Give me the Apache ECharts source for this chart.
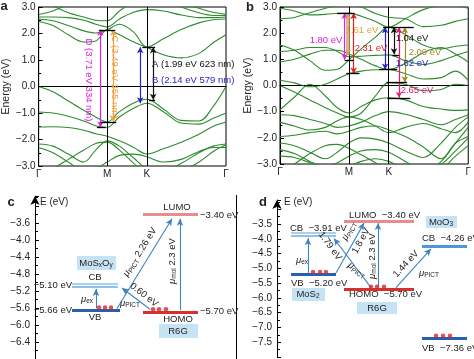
<!DOCTYPE html>
<html><head><meta charset="utf-8">
<script src="https://cdn.jsdelivr.net/npm/echarts@6/dist/echarts.min.js"></script>
<style>html,body{margin:0;padding:0;background:#fff}#c{width:474px;height:359px}</style>
</head><body><div id="c"></div><script>
// ---------- data ----------
const kPath = [0, 0.12, 0.25, 0.38, 0.48, 0.577, 0.68, 0.8, 0.911, 1.05, 1.2, 1.35, 1.47, 1.577];
const kTicks = [0, 0.577, 0.911, 1.577];
const kNames = ['Γ', 'M', 'K', 'Γ'];

// panel a bands (eV)
const aC1 = [2.45, 2.30, 1.95, 1.68, 1.72, 2.14, 1.95, 1.68, 1.47, 1.20, 1.08, 1.25, 1.65, 1.95];
const aC2 = [2.55, 2.48, 2.30, 2.10, 2.02, 2.14, 2.35, 2.05, 1.49, 1.80, 2.15, 2.40, 2.52, 2.55];
const aC3 = [2.62, 2.62, 2.60, 2.50, 2.35, 2.25, 2.55, 2.80, 2.90, 2.85, 2.70, 2.60, 2.60, 2.62];
const aC4 = [2.72, 2.85, 3.10, 3.30, 3.35, 3.20, 3.05, 3.10, 3.30, 3.35, 3.15, 2.95, 2.80, 2.72];
const aC5 = [3.30, 3.05, 2.78, 2.62, 2.50, 2.48, 2.85, 3.20, 3.40, 3.30, 3.00, 2.78, 2.68, 2.68];
const aV1 = [0.00, -0.20, -0.55, -0.90, -1.15, -1.34, -0.95, -0.62, -0.48, -0.85, -1.28, -1.30, -0.75, 0.00];
const aV2 = [-0.96, -1.00, -1.12, -1.30, -1.48, -1.54, -1.15, -0.82, -0.63, -0.95, -1.38, -1.42, -1.20, -1.00];
const aV3 = [-1.53, -1.52, -1.55, -1.65, -1.78, -1.88, -2.05, -2.30, -2.55, -2.35, -2.10, -1.80, -1.50, -1.34];
const aV4 = [-2.17, -2.25, -2.55, -2.85, -2.40, -2.05, -2.25, -2.70, -3.10, -3.20, -2.90, -2.50, -2.25, -2.17];
const aV5 = [-2.30, -2.50, -2.85, -3.20, -3.10, -2.85, -2.60, -2.55, -2.65, -2.85, -2.75, -2.45, -2.30, -2.30];
const aV6 = [-3.40, -3.10, -2.75, -2.40, -2.15, -2.10, -2.40, -2.90, -3.30, -3.40, -3.20, -2.85, -2.45, -2.20];

// panel b bands (eV)
const b1 = [2.95, 2.85, 2.70, 2.72, 2.76, 2.77, 2.65, 2.45, 2.23, 2.55, 2.90, 3.05, 3.05, 2.95];
const b2 = [2.55, 2.60, 2.78, 2.95, 3.05, 3.10, 3.00, 2.75, 2.60, 2.55, 2.25, 2.30, 2.45, 2.55];
const b3 = [1.55, 1.35, 0.95, 0.58, 0.62, 0.98, 1.40, 1.85, 2.23, 1.95, 1.55, 1.40, 1.50, 1.55];
const b4 = [1.30, 1.35, 1.45, 1.45, 1.30, 1.10, 1.12, 1.15, 1.17, 0.95, 0.80, 0.95, 1.15, 1.30];
const b5 = [0.20, 0.10, -0.05, 0.05, 0.25, 0.45, 0.55, 0.60, 0.61, 0.45, 0.25, 0.30, 0.55, 0.20];
const b6 = [-0.93, -0.45, 0.05, -0.40, -0.85, -1.05, -0.80, -0.55, -0.47, -0.55, -0.80, -0.90, -0.95, -0.93];
const b7 = [0.00, -0.25, -0.55, -0.85, -1.05, -1.20, -1.05, -0.40, 0.11, 0.05, -0.20, -0.15, 0.05, 0.00];
const b8 = [-1.12, -1.15, -1.30, -1.45, -1.60, -1.55, -1.40, -1.15, -1.00, -1.10, -1.30, -1.50, -1.30, -1.12];
const b9 = [-1.95, -1.90, -1.80, -1.75, -1.85, -1.75, -1.60, -1.55, -1.70, -1.95, -2.35, -2.80, -2.20, -1.95];
const b10 = [-2.20, -2.30, -2.55, -2.80, -2.55, -2.20, -2.00, -2.05, -2.20, -2.50, -2.75, -2.20, -1.60, -1.20];
const b11 = [-2.70, -2.75, -2.95, -3.20, -3.30, -3.10, -2.90, -2.80, -2.90, -3.20, -3.30, -2.90, -2.20, -1.60];
const b12 = [-2.45, -2.60, -2.90, -3.10, -2.95, -2.70, -2.50, -2.45, -2.55, -2.90, -3.20, -3.00, -2.50, -2.00];
const b13 = [0.90, 1.00, 1.20, 1.35, 1.35, 1.20, 1.00, 0.75, 0.61, 0.85, 1.25, 1.45, 1.20, 0.90];
const b14 = [-1.40, -1.55, -1.70, -1.60, -1.35, -1.20, -1.30, -1.55, -1.80, -1.60, -1.45, -1.65, -1.80, -1.40];
const b15 = [-3.30, -3.00, -2.60, -2.30, -2.25, -2.40, -2.65, -2.95, -3.20, -3.40, -3.40, -3.20, -2.70, -2.30];

// panel a transitions
const aTransNames = ['A (1.99 eV 623 nm)', 'B (2.14 eV 579 nm)', 'C (3.49 eV 355 nm)', 'D (3.71 eV 334 nm)'];
const aTransK = [0.964, 0.855, 0.629, 0.520];
const aTransTop = [1.48, 1.48, 2.14, 2.14];
const aTransBottom = [-0.50, -0.63, -1.34, -1.54];
const aMarkE = [2.14, -1.34, -1.54, 1.48, -0.50];
const aMarkK0 = [0.507, 0.523, 0.49, 0.874, 0.93];
const aMarkK1 = [0.645, 0.654, 0.564, 0.98, 0.98];

// panel b transitions
const bTransNames = ['1.80 eV', '1.61 eV', '2.31 eV', '1.62 eV', '1.04 eV', '2.65 eV', '2.09 eV'];
const bTransK = [0.542, 0.567, 0.617, 0.881, 0.955, 0.997, 1.046];
const bTransTop = [2.77, 2.77, 2.77, 2.23, 2.23, 2.23, 2.23];
const bTransBottom = [0.98, 1.16, 0.46, 0.61, 1.19, -0.47, 0.12];
const bMarkE = [2.77, 0.98, 0.45, 2.23, 1.17, 0.61, 0.11, -0.47];
const bMarkK0 = [0.479, 0.542, 0.556, 0.864, 0.941, 0.831, 0.892, 0.900];
const bMarkK1 = [0.625, 0.617, 0.666, 1.12, 0.997, 0.982, 1.065, 1.092];

// panel c levels (eV)
const cLevelNames = ['CB', 'VB', 'LUMO', 'HOMO'];
const cLevelE = [-5.10, -5.66, -3.40, -5.70];
const cTicks = [-3.6, -4.0, -4.4, -4.8, -5.2, -5.6, -6.0, -6.4];
// panel d levels (eV)
const dLevelNames = ['MoS2 CB', 'MoS2 VB', 'R6G LUMO', 'R6G HOMO', 'MoO3 CB', 'MoO3 VB'];
const dLevelE = [-3.91, -5.20, -3.40, -5.70, -4.26, -7.36];
const dTicks = [-3.5, -4.0, -4.5, -5.0, -5.5, -6.0, -6.5, -7.0, -7.5];

// ---------- drawing ----------
const GREEN = '#2e8b2e';
const FF = 'Arial, "Liberation Sans", Helvetica, sans-serif';
const minus = s => s.replace('-', '−');
const fmt1 = v => minus((Math.round(v * 10) / 10).toFixed(1));

function bandSeries(bands, gi) {
  return bands.map(b => ({
    type: 'line', xAxisIndex: gi, yAxisIndex: gi, silent: true, animation: false,
    data: kPath.map((k, i) => [k, b[i]]), smooth: 0.35, showSymbol: false, clip: true,
    lineStyle: { color: GREEN, width: 1.1 }, z: 2
  }));
}
function refLines(gi) {
  return {
    type: 'line', xAxisIndex: gi, yAxisIndex: gi, data: [], silent: true, animation: false, z: 3,
    markLine: {
      silent: true, symbol: ['none', 'none'], label: { show: false }, animation: false,
      data: [
        { yAxis: 0, lineStyle: { type: [1.5, 1.5], color: '#000', width: 1 } },
        { xAxis: kTicks[1], lineStyle: { type: 'solid', color: '#000', width: 1 } },
        { xAxis: kTicks[2], lineStyle: { type: 'solid', color: '#000', width: 1 } }
      ]
    }
  };
}
function arrows(gi, ks, tops, bottoms, colors, widths) {
  return {
    type: 'line', xAxisIndex: gi, yAxisIndex: gi, data: [], silent: true, animation: false, z: 5,
    markLine: {
      silent: true, symbol: ['arrow', 'arrow'], symbolSize: [5, 6], label: { show: false }, animation: false,
      data: ks.map((k, i) => [
        { coord: [k, tops[i]], lineStyle: { color: colors[i], width: widths ? widths[i] : 1.2, type: 'solid' } },
        { coord: [k, bottoms[i]] }
      ])
    }
  };
}
function markers(gi, es, k0, k1) {
  return {
    type: 'line', xAxisIndex: gi, yAxisIndex: gi, data: [], silent: true, animation: false, z: 6,
    markLine: {
      silent: true, symbol: ['none', 'none'], label: { show: false }, animation: false,
      data: es.map((e, i) => [
        { coord: [k0[i], e], lineStyle: { color: '#000', width: 1.3, type: 'solid' } },
        { coord: [k1[i], e] }
      ])
    }
  };
}
function bandAxisX(gi) {
  return {
    gridIndex: gi, type: 'value', min: 0, max: kTicks[3],
    axisLine: { lineStyle: { color: '#000' } }, axisTick: { show: false }, splitLine: { show: false },
    axisLabel: {
      customValues: kTicks, fontSize: 10, color: '#222', margin: 3, fontFamily: FF,
      showMinLabel: true, showMaxLabel: true,
      formatter: v => { let bi = 0; kTicks.forEach((t, i) => { if (Math.abs(t - v) < Math.abs(kTicks[bi] - v)) bi = i; }); return kNames[bi]; }
    }
  };
}
function bandAxisY(gi, gap) {
  return {
    gridIndex: gi, type: 'value', min: -3, max: 3, interval: 1,
    axisLine: { show: true, lineStyle: { color: '#000' } },
    axisTick: { show: true, inside: true, length: 4, lineStyle: { color: '#000' } },
    minorTick: { show: true, splitNumber: 2, length: 2.5, lineStyle: { color: '#000' } },
    splitLine: { show: false },
    axisLabel: { formatter: fmt1, fontSize: 10, color: '#222', margin: 3, fontFamily: FF },
    name: 'Energy (eV)', nameLocation: 'middle', nameGap: gap,
    nameTextStyle: { fontSize: 10.5, color: '#222', fontFamily: FF }
  };
}
function levelAxisY(gi, mn, mx, iv, shown) {
  return {
    gridIndex: gi, type: 'value', min: mn, max: mx, interval: iv,
    axisLine: { show: true, lineStyle: { color: '#000' }, symbol: ['none', 'arrow'], symbolSize: [7, 9] },
    axisTick: { show: true, inside: true, length: 4, lineStyle: { color: '#000' } },
    minorTick: { show: true, splitNumber: 2, length: 3, lineStyle: { color: '#000' } },
    splitLine: { show: false },
    axisLabel: {
      fontSize: 10, color: '#222', margin: 5, fontFamily: FF, showMaxLabel: false,
      formatter: v => shown.some(t => Math.abs(t - v) < 1e-6) ? fmt1(v) : ''
    }
  };
}
function hidX(gi, mx) { return { gridIndex: gi, type: 'value', min: 0, max: mx, show: false }; }

function levelLines(gi, items) {
  return {
    type: 'line', xAxisIndex: gi, yAxisIndex: gi, data: [], silent: true, animation: false, z: 4,
    markLine: {
      silent: true, symbol: ['none', 'none'], label: { show: false }, animation: false,
      data: items.map(it => [
        { coord: [it.x0, it.e], lineStyle: { color: it.c, width: it.w, type: 'solid', cap: 'butt' } },
        { coord: [it.x1, it.e] }
      ])
    }
  };
}
function levelArrows(gi, items) {
  return {
    type: 'line', xAxisIndex: gi, yAxisIndex: gi, data: [], silent: true, animation: false, z: 5,
    markLine: {
      silent: true, symbol: ['none', 'arrow'], symbolSize: [5, 7], label: { show: false }, animation: false,
      data: items.map(it => [
        { coord: [it.x0, it.e0], lineStyle: { color: '#3d84bf', width: 1.1, type: 'solid' } },
        { coord: [it.x1, it.e1] }
      ])
    }
  };
}
function dots(gi, xs, e) {
  return {
    type: 'scatter', xAxisIndex: gi, yAxisIndex: gi, silent: true, animation: false, z: 6,
    symbolSize: 4.5, itemStyle: { color: '#d7262b' }, data: xs.map(x => [x, e])
  };
}

const LB = '#8cc2e6', DB = '#2a5fae', SAL = '#ec8b8b', RED = '#d8302c';
const cE = name => cLevelE[cLevelNames.indexOf(name)];
const dE = name => dLevelE[dLevelNames.indexOf(name)];

const series = [
  ...bandSeries([aC1, aC2, aC3, aC4, aC5, aV1, aV2, aV3, aV4, aV5, aV6], 0),
  refLines(0),
  arrows(0, aTransK, aTransTop, aTransBottom, ['#111', '#2424c8', '#f0a040', '#e020e0']),
  markers(0, aMarkE, aMarkK0, aMarkK1),
  ...bandSeries([b1, b2, b3, b4, b5, b6, b7, b8, b9, b10, b11, b12, b13, b14, b15], 1),
  refLines(1),
  arrows(1, bTransK, bTransTop, bTransBottom,
    ['#e020e0', 'rgba(205,160,100,0.75)', '#e02020', '#2424c8', '#111', '#e8196e', '#a08a20'],
    [1.2, 4, 1.2, 1.2, 1.2, 1.2, 1.2]),
  markers(1, bMarkE, bMarkK0, bMarkK1),
  // panel c
  levelLines(2, [
    { x0: 37, x1: 83, e: cE('CB') + 0.07, c: LB, w: 1.6 },
    { x0: 37, x1: 83, e: cE('CB'), c: '#6aaee0', w: 1.6 },
    { x0: 37, x1: 85, e: cE('VB'), c: DB, w: 3 },
    { x0: 108, x1: 163, e: cE('LUMO'), c: SAL, w: 3 },
    { x0: 108, x1: 163, e: cE('HOMO'), c: RED, w: 3 }
  ]),
  levelArrows(2, [
    { x0: 61, e0: cE('VB') + 0.05, x1: 61, e1: cE('CB') - 0.05 },
    { x0: 82, e0: cE('VB') + 0.05, x1: 137, e1: cE('LUMO') - 0.1 },
    { x0: 115, e0: cE('HOMO') + 0.07, x1: 87, e1: cE('CB') - 0.03 },
    { x0: 145, e0: cE('HOMO') + 0.05, x1: 145, e1: cE('LUMO') - 0.1 }
  ]),
  dots(2, [64, 70, 76], cE('VB') + 0.07),
  dots(2, [118, 124, 131], cE('HOMO') + 0.07),
  // panel d
  levelLines(3, [
    { x0: 14, x1: 59, e: dE('MoS2 CB') + 0.1, c: LB, w: 1.6 },
    { x0: 14, x1: 59, e: dE('MoS2 CB'), c: '#6aaee0', w: 1.6 },
    { x0: 14, x1: 59, e: dE('MoS2 VB'), c: DB, w: 3 },
    { x0: 67, x1: 137, e: dE('R6G LUMO'), c: SAL, w: 3 },
    { x0: 67, x1: 137, e: dE('R6G HOMO'), c: RED, w: 3 },
    { x0: 145, x1: 190, e: dE('MoO3 CB'), c: '#4f97d6', w: 3 },
    { x0: 145, x1: 190, e: dE('MoO3 VB'), c: DB, w: 3 }
  ]),
  levelArrows(3, [
    { x0: 31, e0: dE('MoS2 VB') + 0.05, x1: 31, e1: dE('MoS2 CB') - 0.07 },
    { x0: 94, e0: dE('R6G HOMO') + 0.05, x1: 57, e1: dE('MoS2 CB') - 0.08 },
    { x0: 59, e0: dE('MoS2 VB') + 0.04, x1: 87, e1: dE('R6G LUMO') - 0.07 },
    { x0: 101, e0: dE('R6G HOMO') + 0.05, x1: 101, e1: dE('R6G LUMO') - 0.07 },
    { x0: 119, e0: dE('R6G HOMO') + 0.05, x1: 154, e1: dE('MoO3 CB') - 0.08 }
  ]),
  dots(3, [36, 43, 49], dE('MoS2 VB') + 0.08),
  dots(3, [94, 100, 107], dE('R6G HOMO') + 0.08),
  dots(3, [159, 166, 173], dE('MoO3 VB') + 0.08)
];

// ---------- text ----------
function T(x, y, text, o = {}) {
  return {
    type: 'text', x, y, rotation: (o.rot || 0) * Math.PI / 180, silent: true, z: 100,
    style: {
      text, fill: o.color || '#222', fontSize: o.size || 9.5, fontFamily: FF,
      fontWeight: o.bold ? 'bold' : 'normal', align: o.align || 'center', verticalAlign: 'middle',
      rich: o.rich
    }
  };
}
const RICH = {
  m: { fontSize: 9.5, fontStyle: 'italic', fontFamily: FF, fill: '#222' },
  s: { fontSize: 6.5, fontFamily: FF, fill: '#222', padding: [5, 0, 0, 0] },
  n: { fontSize: 9.5, fontFamily: FF, fill: '#222' }
};
const box = (x, y, w, h) => ({ type: 'rect', shape: { x, y, width: w, height: h }, style: { fill: '#c6e3f5' }, silent: true, z: 1 });

const graphic = [
  T(4, 6, 'a', { bold: true, size: 13 }),
  T(250, 7, 'b', { bold: true, size: 13 }),
  T(11, 202, 'c', { bold: true, size: 13 }),
  T(263, 202, 'd', { bold: true, size: 13 }),
  T(152, 64, aTransNames[0], { align: 'left', color: '#111' }),
  T(152, 80, aTransNames[1], { align: 'left', color: '#2424c8' }),
  T(115, 77, aTransNames[2], { rot: -90, color: '#f0a040' }),
  T(89, 80, aTransNames[3], { rot: -90, color: '#e020e0' }),
  T(326, 40, bTransNames[0], { color: '#e020e0' }),
  T(362, 30, bTransNames[1], { color: '#f0a040' }),
  T(371, 48, bTransNames[2], { color: '#e02020' }),
  T(412, 63, bTransNames[3], { color: '#2424c8' }),
  T(412, 38, bTransNames[4], { color: '#111' }),
  T(417, 90, bTransNames[5], { color: '#e8196e' }),
  T(425, 52, bTransNames[6], { color: '#a08a20' }),
  { type: 'line', shape: { x1: 236.5, y1: 195, x2: 236.5, y2: 359 }, style: { stroke: '#000', lineWidth: 1 }, silent: true },
  T(40, 202, 'E (eV)', { align: 'left', size: 10 }),
  T(72, 285, '−5.10 eV', { align: 'right' }),
  T(72, 310, '−5.66 eV', { align: 'right' }),
  T(95, 277, 'CB'), T(95, 317, 'VB'),
  box(77, 256, 39, 14),
  T(96, 263, '{n|MoS}{s|x}{n|O}{s|y}', { rich: RICH }),
  T(87, 299, '{m|μ}{s|ex}', { rich: RICH }),
  T(177, 207, 'LUMO'),
  T(200, 215, '−3.40 eV', { align: 'left' }),
  T(200, 311, '−5.70 eV', { align: 'left' }),
  T(178, 319, 'HOMO'),
  box(159, 324, 39, 14),
  T(178, 331, 'R6G'),
  T(140, 252, '{m|μ}{s|PICT}{n| 2.26 eV}', { rot: 58, rich: RICH }),
  T(144, 295, '0.60 eV', { rot: -38 }),
  T(130, 303, '{m|μ}{s|PICT}', { rich: RICH }),
  T(172, 261, '{m|μ}{s|mol}{n| 2.3 eV}', { rot: 90, rich: RICH }),
  T(284, 202, 'E (eV)', { align: 'left', size: 10 }),
  T(290, 228, 'CB  −3.91 eV', { align: 'left' }),
  T(291, 283, 'VB  −5.20 eV', { align: 'left' }),
  box(292, 288, 33, 13),
  T(308, 294, '{n|MoS}{s|2}', { rich: RICH }),
  T(302, 260, '{m|μ}{s|ex}', { rich: RICH }),
  T(349, 215, 'LUMO  −3.40 eV', { align: 'left' }),
  T(349, 294, 'HOMO  −5.70 eV', { align: 'left' }),
  box(357, 302, 40, 12),
  T(377, 308, 'R6G'),
  box(426, 216, 31, 12),
  T(441, 222, '{n|MoO}{s|3}', { rich: RICH }),
  T(422, 238, 'CB  −4.26 eV', { align: 'left' }),
  T(422, 348, 'VB  −7.36 eV', { align: 'left' }),
  T(330, 246, '1.79 eV', { rot: -54 }),
  T(349, 231, '{m|μ}{s|PICT}', { rot: 61, rich: RICH }),
  T(361, 241, '1.8 eV', { rot: 61 }),
  T(357, 270, '{m|μ}{s|PICT}', { rot: -35, rich: RICH }),
  T(372, 256, '{m|μ}{s|mol}{n| 2.3 eV}', { rot: 90, rich: RICH }),
  T(406, 264, '1.44 eV', { rot: 47 }),
  T(429, 273, '{m|μ}{s|PICT}', { rich: RICH })
];

const cMin = -6.8, cMax = -3.6 + 27 / 42.5;
const dMin = -8.0, dMax = -3.5 + 24 / 29.58;

const option = {
  animation: false,
  grid: [
    { left: 33, top: 7, width: 193, height: 159, show: true, borderColor: '#000', borderWidth: 1, backgroundColor: 'transparent' },
    { left: 280, top: 7, width: 191, height: 157, show: true, borderColor: '#000', borderWidth: 1, backgroundColor: 'transparent' },
    { left: 35, top: 196, width: 200, height: 163 },
    { left: 277, top: 200, width: 197, height: (dMax - dMin) * 29.58 }
  ],
  xAxis: [bandAxisX(0), bandAxisX(1), hidX(2, 200), hidX(3, 197)],
  yAxis: [bandAxisY(0, 21), bandAxisY(1, 24),
    levelAxisY(2, cMin, cMax, 0.4, cTicks), levelAxisY(3, dMin, dMax, 0.5, dTicks)],
  series, graphic
};
const chart = echarts.init(document.getElementById('c'), null, { renderer: 'canvas' });
chart.setOption(option);
</script></body></html>
